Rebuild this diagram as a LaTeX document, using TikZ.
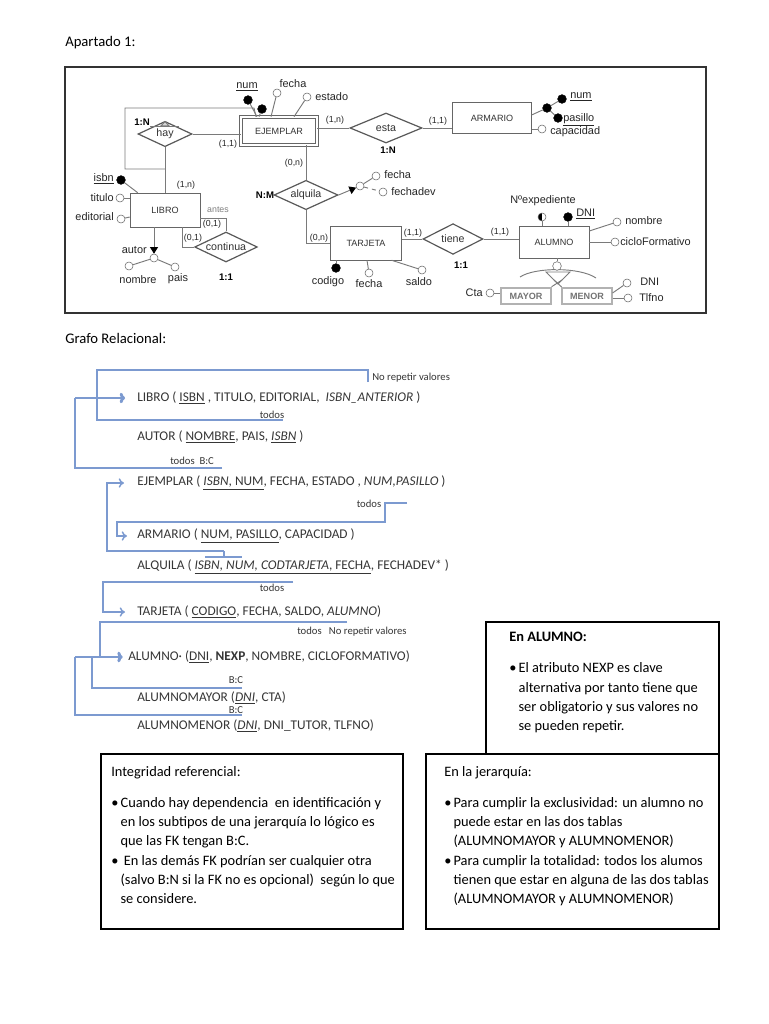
\documentclass[tikz,border=0pt]{standalone}
\usepackage{fontspec}
\setmainfont{Carlito}
\newfontfamily\erfont{Liberation Sans}
\usetikzlibrary{shapes.geometric,arrows.meta,positioning,calc}
\definecolor{erline}{HTML}{7A7A7A}
\definecolor{relblue}{HTML}{7C9AD0}
\definecolor{reltext}{HTML}{363636}

\begin{document}
\begin{tikzpicture}[x=0.75pt, y=-0.75pt,
    ent/.style={rectangle, draw=gray!80!black, fill=white, font=\erfont\fontsize{6.8}{8}\selectfont, text=black!80, inner sep=0pt},
    subent/.style={ent, draw=gray!60, line width=1.3pt, minimum width=37pt, minimum height=12.5pt, font=\erfont\bfseries\fontsize{6.8}{8}\selectfont, text=gray!90!black},
    rel/.style={diamond, aspect=2, draw=gray!70!black, fill=white, line width=0.9pt, font=\erfont\fontsize{8}{9}\selectfont, text=black!80, inner sep=0pt},
    attr/.style={circle, draw=gray!80!black, fill=white, inner sep=0pt, minimum size=6pt},
    keyattr/.style={attr, fill=black, draw=black, minimum size=6.5pt},
    lbl/.style={font=\erfont\fontsize{8.2}{9}\selectfont, inner sep=0pt, text=black!85},
    card/.style={font=\erfont\fontsize{6.6}{8}\selectfont, inner sep=0pt, text=black!85},
    ratio/.style={font=\erfont\bfseries\fontsize{7.2}{8}\selectfont, inner sep=0pt},
    erl/.style={draw=erline, line width=0.7pt},
    row/.style={anchor=west, inner sep=0pt, font=\fontsize{10}{12}\selectfont, text=reltext},
    note/.style={inner sep=0pt, font=\fontsize{8}{10}\selectfont, text=reltext},
    fk/.style={draw=relblue, line width=1.1pt},
    fkarrow/.style={fk, -{To[length=4pt,width=7pt]}},
    mainarrow/.style={draw=relblue, line width=2.2pt, -{To[length=4pt,width=8pt]}},
    box/.style={draw=black, line width=1.5pt, fill=white, inner sep=0pt},
    boxtext/.style={anchor=north west, inner sep=0pt, align=left, font=\fontsize{10.8}{14.4}\selectfont}]

\fill[white] (0,0) rectangle (768,1024);
\useasboundingbox (0,0) rectangle (768,1024);

% titles
\node[anchor=west, inner sep=0pt, font=\fontsize{11}{13}\selectfont] (apartado) at (65,43) {Apartado 1:};
\node[anchor=west, inner sep=0pt, font=\fontsize{11}{13}\selectfont] (grafo) at (65,338) {Grafo Relacional:};

% ---------------- E/R diagram
\draw[line width=1pt, black!80] (65,67) rectangle (706,313);

% entities
\node[ent, double, double distance=2pt, minimum width=57pt, minimum height=21pt] (ejemplar) at (279,131) {EJEMPLAR};
\node[ent, minimum width=52.5pt, minimum height=25.5pt] (libro) at (165,210) {LIBRO};
\node[ent, minimum width=59pt, minimum height=23pt] (armario) at (492,118) {ARMARIO};
\node[ent, minimum width=53pt, minimum height=25.5pt] (tarjeta) at (366,243) {TARJETA};
\node[ent, minimum width=52.5pt, minimum height=24pt] (alumno) at (554,242) {ALUMNO};
\node[subent] (mayor) at (526,296) {MAYOR};
\node[subent] (menor) at (587,296) {MENOR};

% relationships
\node[rel, minimum width=40.5pt, minimum height=19pt] (hay) at (165,134) {hay};
\node[rel, minimum width=54pt, minimum height=22.5pt] (esta) at (386,128) {esta};
\node[rel, minimum width=48pt, minimum height=22pt] (alquila) at (306,195) {alquila};
\node[rel, minimum width=47pt, minimum height=22.5pt] (continua) at (226,247) {continua};
\node[rel, minimum width=45pt, minimum height=23pt] (tiene) at (453,239) {tiene};

% EJEMPLAR attributes
\node[keyattr] (num1) at (248,100) {};
\node[keyattr] (num2) at (262,109) {};
\node[lbl] (l_num) at (247,87) {\underline{num}};
\node[attr] (e_fecha) at (277,93) {};
\node[lbl] (l_efecha) at (293,84) {fecha};
\node[attr] (e_estado) at (307,97) {};
\node[lbl, anchor=west] (l_estado) at (315,97) {estado};
\draw[erl] (num1) -- ($(ejemplar.north)+(-22,0)$);
\draw[erl] (num2) -- ($(ejemplar.north)+(-20,0)$);
\draw[erl] (e_fecha) -- ($(ejemplar.north)+(-8,0)$);
\draw[erl] (e_estado) -- ($(ejemplar.north)+(15,0)$);

% hay (weak, identification)
\draw[erl] ($(ejemplar.north)+(-23,0)$) -- (254,108) -- (125,108) -- (125,169) -- (hay.south |- 0,169);
\draw[erl] (hay.east) -- (hay.east -| ejemplar.west);
\draw[erl] (hay.south) -- (hay.south |- libro.north);
\draw[erl] (150,126) -- (179,126);
\draw[erl, fill=gray!30] ($(hay.north)+(-4,5)$) -- ($(hay.north)+(0,1)$) -- ($(hay.north)+(4,5)$) -- cycle;
\node[ratio] (r_hay) at (142,122) {1:N};
\node[card] (c_hay1) at (228,144) {(1,1)};
\node[card] (c_hay2) at (186,185) {(1,n)};

% LIBRO attributes
\node[keyattr] (isbn) at (121,180) {};
\node[lbl, anchor=east] (l_isbn) at (114,179) {\underline{isbn}};
\draw[erl] (isbn) -- ($(libro.north west)+(8,0)$);
\node[attr] (titulo) at (120,198) {};
\node[lbl, anchor=east] (l_titulo) at (114,198) {titulo};
\draw[erl] (titulo) -- (titulo -| libro.west);
\node[attr] (editorial) at (121,219) {};
\node[lbl, anchor=east] (l_editorial) at (114,217) {editorial};
\draw[erl] (editorial) -- ($(libro.west)+(0,7)$);

% autor (multivalued, composite)
\node[attr] (autor) at (154,258) {};
\node[lbl, anchor=east] (l_autor) at (147,250) {autor};
\draw[erl, -{Triangle[length=5pt,width=6pt,color=black]}] ($(libro.south)+(-11,0)$) -- (autor.north);
\node[attr] (nombre) at (129,266) {};
\node[lbl] (l_nombre) at (138,280) {nombre};
\node[attr] (pais) at (175,267) {};
\node[lbl] (l_pais) at (178,279) {pais};
\draw[erl] (nombre) -- (autor) -- (pais);

% continua
\draw[erl] ($(libro.east)+(0,8)$) -| (continua.north);
\draw[erl] ($(libro.south)+(17,0)$) |- (continua.west);
\node[card, text=gray] (l_antes) at (218,210) {antes};
\node[card] (c_cont1) at (212,224) {(0,1)};
\node[card] (c_cont2) at (193,238) {(0,1)};
\node[ratio] (r_cont) at (226,277) {1:1};

% esta
\draw[erl] (esta.west) -- (esta.west -| ejemplar.east);
\draw[erl] (esta.east) -- (esta.east -| armario.west);
\node[card] (c_esta1) at (335,120) {(1,n)};
\node[card] (c_esta2) at (438,121) {(1,1)};
\node[ratio] (r_esta) at (388,150) {1:N};

% ARMARIO attributes
\node[keyattr] (ar_c) at (547,108) {};
\node[keyattr] (ar_num) at (562,99) {};
\node[lbl, anchor=west] (l_arnum) at (570,97) {\underline{num}};
\node[keyattr] (ar_pasillo) at (558,118) {};
\node[lbl, anchor=west] (l_pasillo) at (563,120) {\underline{pasillo}};
\draw[erl] ($(armario.east)+(0,-3)$) -- (ar_c);
\draw[erl] (ar_num) -- (ar_c) -- (ar_pasillo);
\node[attr] (capacidad) at (542,129) {};
\node[lbl, anchor=west] (l_capacidad) at (550,132) {capacidad};
\draw[erl] (capacidad -| armario.east) -- (capacidad);

% alquila
\draw[erl] (ejemplar.south -| alquila.north) -- (alquila.north);
\draw[erl] (alquila.south) |- (tarjeta.west);
\node[card] (c_alq1) at (294,163) {(0,n)};
\node[card] (c_alq2) at (319,238) {(0,n)};
\node[ratio] (r_alq) at (265,195) {N:M};
\node[attr] (alq_c) at (360,186) {};
\draw[erl, -{Triangle[length=5pt,width=6pt,color=black]}] (alquila.east) -- (alq_c);
\node[attr] (a_fecha) at (376,176) {};
\node[lbl, anchor=west] (l_afecha) at (384,175) {fecha};
\node[attr] (a_fechadev) at (383,192) {};
\node[lbl, anchor=west] (l_afechadev) at (391,192) {fechadev};
\draw[erl] (alq_c) -- (a_fecha);
\draw[erl, dashed] (alq_c) -- (a_fechadev);

% TARJETA attributes
\node[keyattr] (codigo) at (336,268) {};
\node[lbl] (l_codigo) at (328,282) {codigo};
\draw[erl] (codigo) -- (codigo |- tarjeta.south);
\node[attr] (t_fecha) at (369,273) {};
\node[lbl] (l_tfecha) at (369,284) {fecha};
\draw[erl] (t_fecha) -- ($(tarjeta.south)+(1,0)$);
\node[attr] (saldo) at (422,270) {};
\node[lbl] (l_saldo) at (419,282) {saldo};
\draw[erl] (saldo) -- ($(tarjeta.south east)+(-10,0)$);

% tiene
\draw[erl] (tiene.west) -- (tiene.west -| tarjeta.east);
\draw[erl] (tiene.east) -- (tiene.east -| alumno.west);
\node[card] (c_tiene1) at (413,233) {(1,1)};
\node[card] (c_tiene2) at (500,232) {(1,1)};
\node[ratio] (r_tiene) at (461,265) {1:1};

% ALUMNO attributes
\node[attr, path picture={\fill[black] (path picture bounding box.south west) rectangle (path picture bounding box.north);}] (nexp) at (542,217) {};
\node[lbl] (l_nexp) at (543,201) {Nºexpediente};
\draw[erl] (nexp) -- (nexp |- alumno.north);
\node[keyattr] (dni) at (568,217) {};
\node[lbl, anchor=west] (l_dni) at (576,214) {\underline{DNI}};
\draw[erl] (dni) -- (dni |- alumno.north);
\node[attr] (al_nombre) at (617,222) {};
\node[lbl, anchor=west] (l_alnombre) at (625,221) {nombre};
\draw[erl] ($(alumno.east)+(0,-11)$) -- (al_nombre);
\node[attr] (ciclo) at (615,242) {};
\node[lbl, anchor=west] (l_ciclo) at (620,242) {cicloFormativo};
\draw[erl] (alumno.east) -- (ciclo);

% hierarchy
\draw[erl] (520,277) .. controls (535,267) and (580,267) .. (596,278);
\node[attr, minimum size=6.5pt] (isa) at (557,266) {};
\draw[erl] (alumno.south -| isa) -- (isa);
\draw[erl, fill=white] (546,272) -- (570,272) -- (558,284) -- cycle;
\draw[erl] (mayor.north east) -- (562,280);
\draw[erl] (menor.north west) -- (554,280);
\node[attr] (cta) at (490,293) {};
\node[lbl, anchor=east] (l_cta) at (483,293) {Cta};
\draw[erl] (cta) -- (cta -| mayor.west);
\node[attr] (m_dni) at (627,283) {};
\node[lbl, anchor=west] (l_mdni) at (640,282) {DNI};
\draw[erl] ($(menor.east)+(0,-3)$) -- (m_dni);
\node[attr] (tlfno) at (628,298) {};
\node[lbl, anchor=west] (l_tlfno) at (639,298) {Tlfno};
\draw[erl] (tlfno -| menor.east) -- (tlfno);

% ---------------- relational graph
\node[row] (r_libro) at (137,398) {LIBRO ( \underline{ISBN} , TITULO, EDITORIAL,\ \ \textit{ISBN\_ANTERIOR} )};
\node[row] (r_autor) at (137,437) {AUTOR ( \underline{NOMBRE}, PAIS, \underline{\textit{ISBN}} )};
\node[row] (r_ejemplar) at (137,483) {EJEMPLAR ( \underline{\textit{ISBN}, NUM}, FECHA, ESTADO , \textit{NUM,PASILLO} )};
\node[row] (r_armario) at (137,536) {ARMARIO ( \underline{NUM, PASILLO}, CAPACIDAD )};
\node[row] (r_alquila) at (137,567) {ALQUILA ( \underline{\textit{ISBN, NUM, CODTARJETA}, FECHA}, FECHADEV* )};
\node[row] (r_tarjeta) at (137,612) {TARJETA ( \underline{CODIGO}, FECHA, SALDO, \textit{ALUMNO})};
\node[row] (r_alumno) at (128,657) {ALUMNO· (\underline{DNI}, \textbf{NEXP}, NOMBRE, CICLOFORMATIVO)};
\node[row] (r_mayor) at (137,698) {ALUMNOMAYOR (\underline{\textit{DNI}}, CTA)};
\node[row] (r_menor) at (137,726) {ALUMNOMENOR (\underline{\textit{DNI}}, DNI\_TUTOR, TLFNO)};

\node[note, anchor=west] (n_norep1) at (372,378) {No repetir valores};
\node[note] (n_todos1) at (272,415) {todos};
\node[note, anchor=west] (n_todosbc) at (170,461) {todos\ \ B:C};
\node[note] (n_todos2) at (369,504) {todos};
\node[note] (n_todos3) at (272,588) {todos};
\node[note, anchor=west] (n_todos4) at (297,632) {todos\ \ \ No repetir valores};
\node[note] (n_bc1) at (236,680) {B:C};
\node[note] (n_bc2) at (236,710) {B:C};

% foreign keys
\coordinate (fk_anterior) at (368,382);
\coordinate (fk_autor) at (283,420);
\coordinate (fk_ejisbn) at (222,468);
\coordinate (fk_alqej) at (224,551);
\coordinate (fk_ejarm) at (407,503);
\coordinate (fk_alqtar) at (293,582);
\coordinate (fk_taralu) at (347,622);
\coordinate (fk_mayor) at (242,688);
\coordinate (fk_menor) at (242,715);

\draw[fk] (fk_anterior) -- (368,370) -- (97,370) -- (97,420) -- (fk_autor);
\draw[fk] (fk_ejisbn) -- (75,468) -- (75,398);
\draw[mainarrow, shorten >=9pt] (75,398) -- (r_libro.west);

\draw[fk] (fk_alqej) -- (224,557);
\draw[fk] (205,557) -- (242,557);
\draw[fkarrow] (fk_alqej) -- (107,551) |- ($(r_ejemplar.west)+(-13,0)$);

\draw[fkarrow] (fk_ejarm) -- (385,503) -- (385,522) -- (117,522) |- ($(r_armario.west)+(-10,0)$);
\draw[fkarrow] (fk_alqtar) -- (103,582) |- ($(r_tarjeta.west)+(-12,0)$);

\draw[fk] (fk_taralu) -- (100,622) -- (100,657);
\draw[fk] (fk_mayor) -- (92,688) -- (92,657);
\draw[fk] (fk_menor) -- (75,715) -- (75,657);
\draw[mainarrow, shorten >=4pt] (75,657) -- (r_alumno.west);

% ---------------- notes
\node[box, anchor=north west, minimum width=174.75pt, minimum height=100.5pt] (alumnobox) at (485,621) {};
\node[boxtext] (alumnotext) at ($(alumnobox.north west)+(24,11)$) {%
  \textbf{En ALUMNO:}\\[9pt]
  \makebox[7pt][l]{•}El atributo NEXP es clave\\
  \hspace*{7pt}alternativa por tanto tiene que\\
  \hspace*{7pt}ser obligatorio y sus valores no\\
  \hspace*{7pt}se pueden repetir.};

\node[box, anchor=north west, minimum width=226.5pt, minimum height=131.25pt] (integbox) at (100,753) {};
\node[boxtext] (integtext) at ($(integbox.north west)+(11,13)$) {%
  Integridad referencial:\\[9pt]
  \makebox[7pt][l]{•}Cuando hay dependencia\ \ en identificación y\\
  \hspace*{7pt}en los subtipos de una jerarquía lo lógico es\\
  \hspace*{7pt}que las FK tengan B:C.\\
  \makebox[7pt][l]{•}\ En las demás FK podrían ser cualquier otra\\
  \hspace*{7pt}(salvo B:N si la FK no es opcional)\ \ según lo que\\
  \hspace*{7pt}se considere.};

\node[box, anchor=north west, minimum width=219.75pt, minimum height=131.25pt] (jerarbox) at (425,753) {};
\node[boxtext] (jerartext) at ($(jerarbox.north west)+(19,13)$) {%
  En la jerarquía:\\[9pt]
  \makebox[7pt][l]{•}Para cumplir la exclusividad: un alumno no\\
  \hspace*{7pt}puede estar en las dos tablas\\
  \hspace*{7pt}(ALUMNOMAYOR y ALUMNOMENOR)\\
  \makebox[7pt][l]{•}Para cumplir la totalidad: todos los alumos\\
  \hspace*{7pt}tienen que estar en alguna de las dos tablas\\
  \hspace*{7pt}(ALUMNOMAYOR y ALUMNOMENOR)};
\end{tikzpicture}
\end{document}
